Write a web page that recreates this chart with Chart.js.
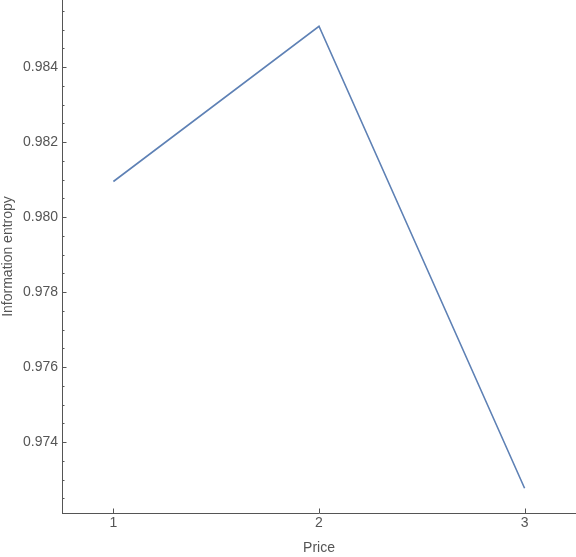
<!DOCTYPE html>
<html>
<head>
<meta charset="utf-8">
<script src="https://cdn.jsdelivr.net/npm/chart.js@4"></script>
<style>
  html, body { margin: 0; padding: 0; background: #fff; }
  #wrap { width: 576px; height: 557px; }
</style>
</head>
<body>
<div id="wrap"><canvas id="entropyChart" width="576" height="557"></canvas></div>
<script>
// values
const prices = [1, 2, 3];
const entropy = [0.98095, 0.98509, 0.97277];
const xTicks = [1, 2, 3];
const yTicks = [0.974, 0.976, 0.978, 0.980, 0.982, 0.984];
const yMinorTicks = [0.9725, 0.973, 0.9735, 0.9745, 0.975, 0.9755, 0.9765, 0.977, 0.9775,
  0.9785, 0.979, 0.9795, 0.9805, 0.981, 0.9815, 0.9825, 0.983, 0.9835, 0.9845, 0.985, 0.9855];

const axisColor = '#555555';

// Mathematica-style ticks pointing into the plot
const inwardTicks = {
  id: 'inwardTicks',
  afterDraw(chart) {
    const ctx = chart.ctx;
    const xs = chart.scales.x, ys = chart.scales.y;
    const left = xs.left, bottom = ys.bottom;
    ctx.save();
    ctx.strokeStyle = axisColor;
    ctx.lineWidth = 1;
    ctx.beginPath();
    yTicks.forEach(v => {
      const y = Math.round(ys.getPixelForValue(v)) + 0.5;
      ctx.moveTo(left, y); ctx.lineTo(left + 4.5, y);
    });
    yMinorTicks.forEach(v => {
      const y = Math.round(ys.getPixelForValue(v)) + 0.5;
      ctx.moveTo(left, y); ctx.lineTo(left + 2.5, y);
    });
    xTicks.forEach(v => {
      const x = Math.round(xs.getPixelForValue(v)) + 0.5;
      ctx.moveTo(x, bottom); ctx.lineTo(x, bottom - 4.5);
    });
    ctx.stroke();
    ctx.restore();
  }
};

const ctx = document.getElementById('entropyChart').getContext('2d');
new Chart(ctx, {
  type: 'line',
  data: {
    datasets: [{
      data: prices.map((p, i) => ({ x: p, y: entropy[i] })),
      borderColor: '#5E81B5',
      borderWidth: 1.6,
      pointRadius: 0,
      tension: 0,
      fill: false
    }]
  },
  options: {
    responsive: false,
    animation: false,
    layout: { padding: 0 },
    plugins: { legend: { display: false }, tooltip: { enabled: false } },
    scales: {
      x: {
        type: 'linear',
        min: 0.75,
        max: 3.25,
        afterBuildTicks: s => { s.ticks = xTicks.map(v => ({ value: v })); },
        afterFit: s => { s.height = 44; s.paddingLeft = 0; s.paddingRight = 0; },
        grid: { display: false, drawTicks: false },
        border: { display: true, color: axisColor, width: 1 },
        ticks: {
          color: '#555',
          padding: 2,
          font: { family: 'Liberation Sans, Arial, sans-serif', size: 14 },
          callback: v => String(v)
        },
        title: {
          display: true,
          text: 'Price',
          color: '#555',
          padding: { top: 0, bottom: 0 },
          font: { family: 'Liberation Sans, Arial, sans-serif', size: 14 }
        }
      },
      y: {
        type: 'linear',
        min: 0.97211,
        max: 0.98579,
        afterBuildTicks: s => { s.ticks = yTicks.map(v => ({ value: v })); },
        afterFit: s => { s.width = 62; s.paddingTop = 0; s.paddingBottom = 0; },
        grid: { display: false, drawTicks: false },
        border: { display: true, color: axisColor, width: 1 },
        ticks: {
          color: '#555',
          padding: 4,
          font: { family: 'Liberation Sans, Arial, sans-serif', size: 14 },
          callback: v => v.toFixed(3)
        },
        title: {
          display: true,
          text: 'Information entropy',
          color: '#555',
          padding: { top: 0, bottom: 0 },
          font: { family: 'Liberation Sans, Arial, sans-serif', size: 14 }
        }
      }
    }
  },
  plugins: [inwardTicks]
});
</script>
</body>
</html>
